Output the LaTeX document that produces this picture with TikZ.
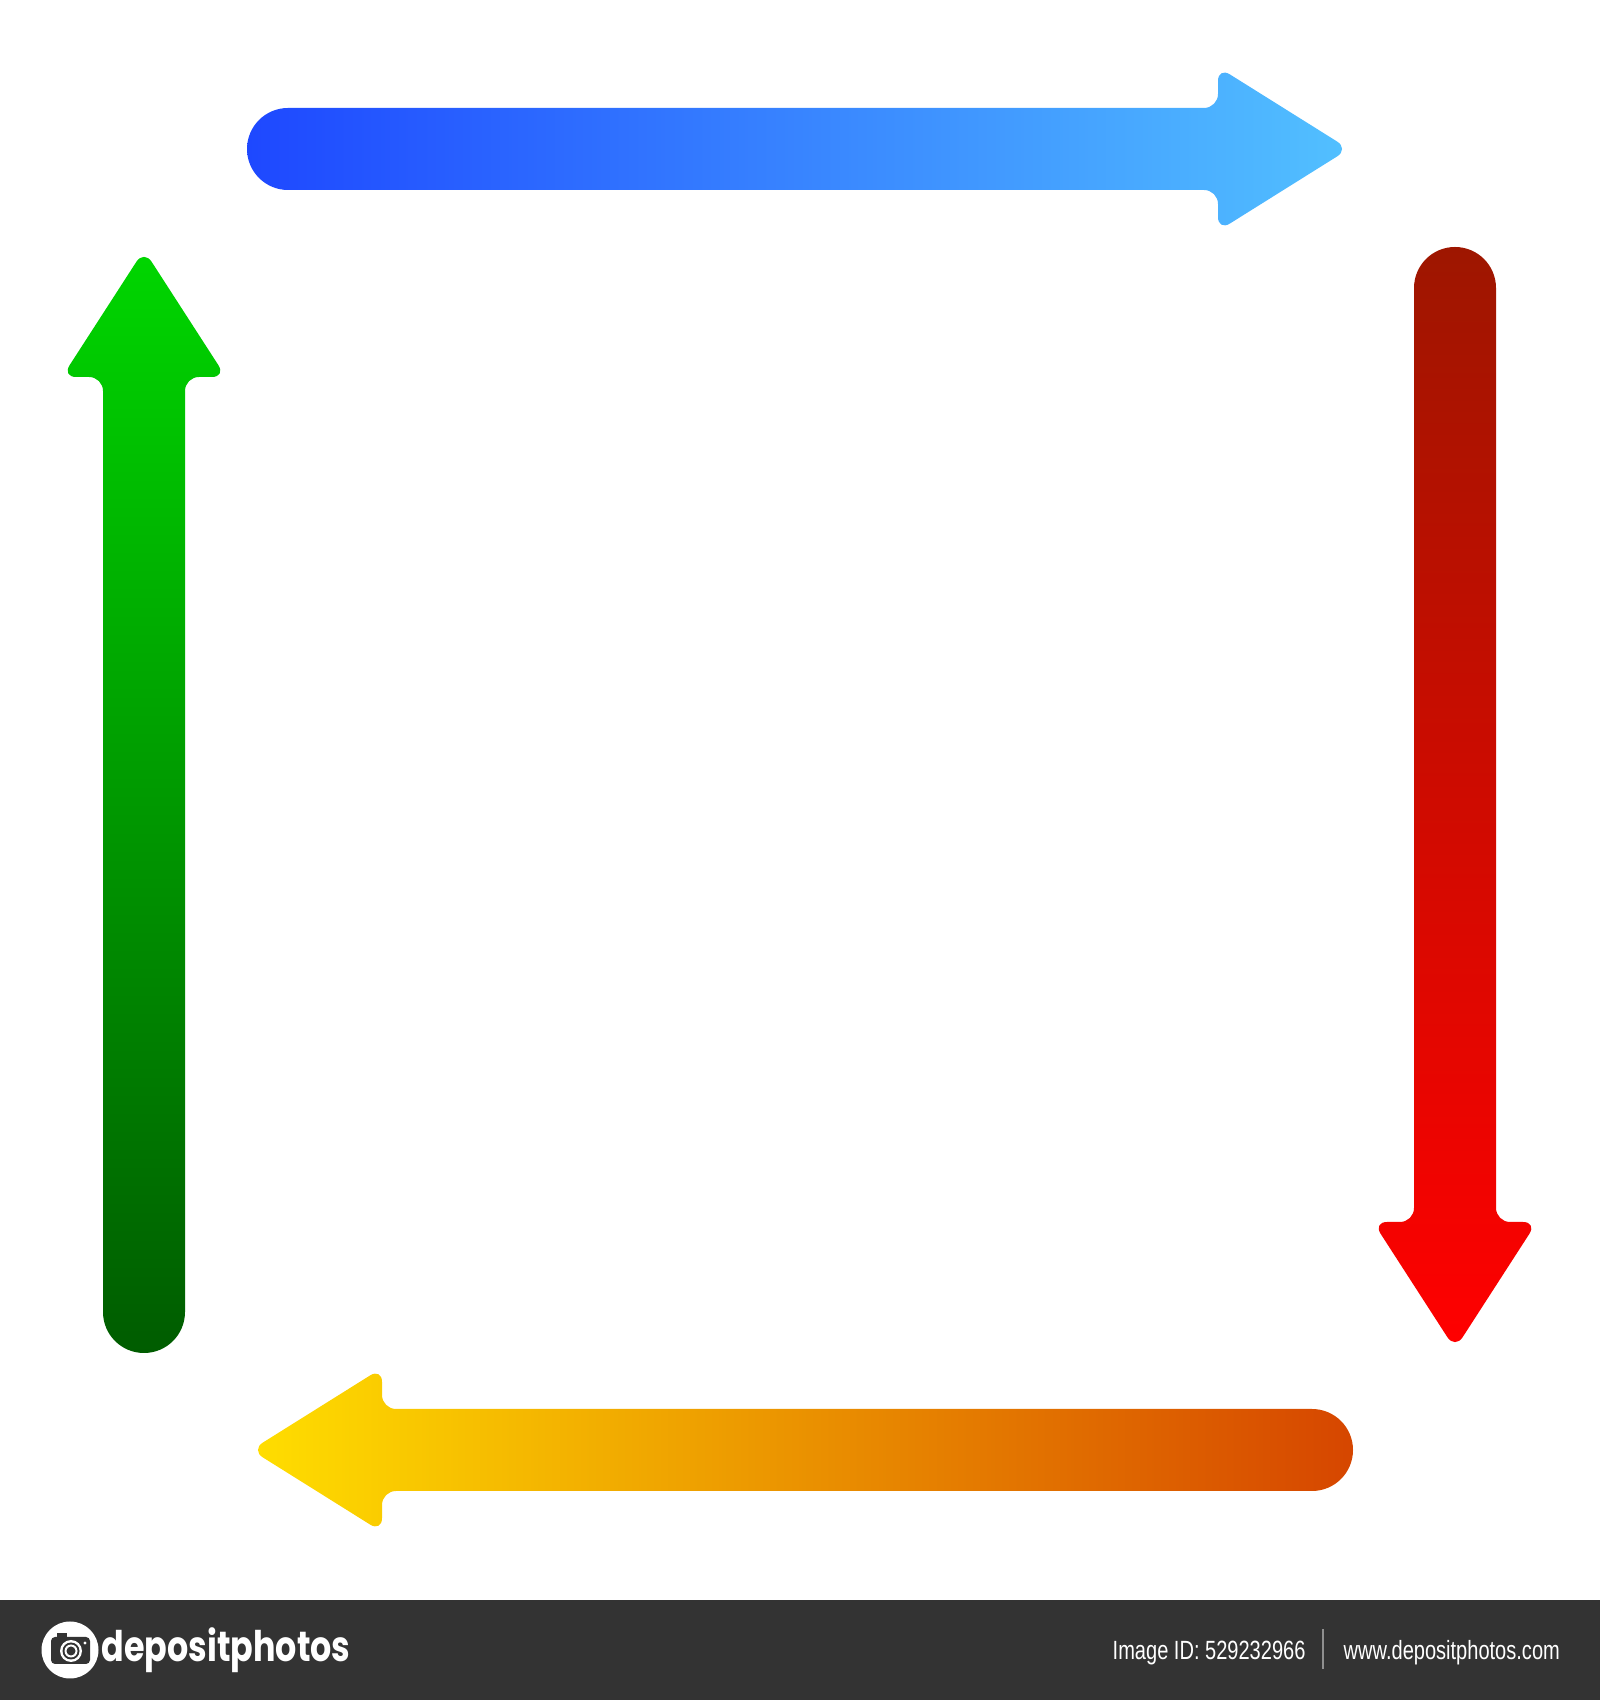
\documentclass[tikz,border=0pt]{standalone}
\usepackage{fontspec}
\newfontfamily\footfont[FakeStretch=0.76]{Liberation Sans}
\newfontfamily\logofont[FakeStretch=0.79]{Poppins}

\definecolor{blueL}{RGB}{30,72,255}
\definecolor{blueR}{RGB}{82,192,255}
\definecolor{redT}{RGB}{158,22,0}
\definecolor{redB}{RGB}{255,0,0}
\definecolor{yellowL}{RGB}{255,222,0}
\definecolor{yellowR}{RGB}{214,70,0}
\definecolor{greenT}{RGB}{0,214,0}
\definecolor{greenB}{RGB}{0,92,0}
\definecolor{footbg}{RGB}{51,51,51}

\begin{document}
\begin{tikzpicture}[x=0.01cm,y=0.01cm,
		arrowbody/.style={rounded corners=1.4mm},
		foottext/.style={text=white,inner sep=0pt,font=\footfont\fontsize{7.5}{9}\selectfont}]
		
		\useasboundingbox (0,0) rectangle (1600,1700);
		
		% top arrow, pointing right
		\shade[arrowbody,left color=blueL,right color=blueR]
		(700,1592) -- (1218,1592) -- (1218,1633) -- (1349,1551) -- (1218,1469) -- (1218,1510)
		-- (700,1510) [sharp corners] -- (288,1510) arc[start angle=-90,end angle=-270,radius=41] -- cycle;
		% right arrow, pointing down
		\shade[arrowbody,top color=redT,bottom color=redB]
		(1414,900) -- (1414,478) -- (1373,478) -- (1455,351) -- (1537,478) -- (1496,478)
		-- (1496,900) [sharp corners] -- (1496,1412) arc[start angle=0,end angle=180,radius=41] -- cycle;
		% bottom arrow, pointing left
		\shade[arrowbody,left color=yellowL,right color=yellowR]
		(800,209) -- (382,209) -- (382,168) -- (251,250) -- (382,332) -- (382,291)
		-- (800,291) [sharp corners] -- (1312,291) arc[start angle=90,end angle=-90,radius=41] -- cycle;
		% left arrow, pointing up
		\shade[arrowbody,top color=greenT,bottom color=greenB]
		(185,800) -- (185,1323) -- (226,1323) -- (144,1450) -- (62,1323) -- (103,1323)
		-- (103,800) [sharp corners] -- (103,388) arc[start angle=180,end angle=360,radius=41] -- cycle;
		
		% footer
		\fill[footbg] (0,0) rectangle (1600,100);
		\fill[white] (70,50) circle[radius=28.5];
		\fill[footbg,rounded corners=0.4mm] (51,36) rectangle (90,63);
		\fill[footbg] (57,62) rectangle (67,67);
		\fill[white] (71,49) circle[radius=11];
		\fill[footbg] (71,49) circle[radius=8.5];
		\fill[white] (71,49) circle[radius=6.5];
		\fill[footbg] (71,49) circle[radius=4.5];
		\fill[white] (85,57) circle[radius=1.6];
		\node[anchor=base west,text=white,inner sep=0pt,font=\logofont\bfseries\fontsize{12}{14}\selectfont] (logo) at (101,38) {depositphotos};
		\node[foottext,anchor=base west] (imgid) at (1112,41) {Image ID: 529232966};
		\node[foottext,anchor=base west] (site) at (1343,41) {www.depositphotos.com};
		\draw[white!45!footbg,line width=0.2mm] (1323,31) -- (1323,71);
		\end{tikzpicture}
\end{document}
